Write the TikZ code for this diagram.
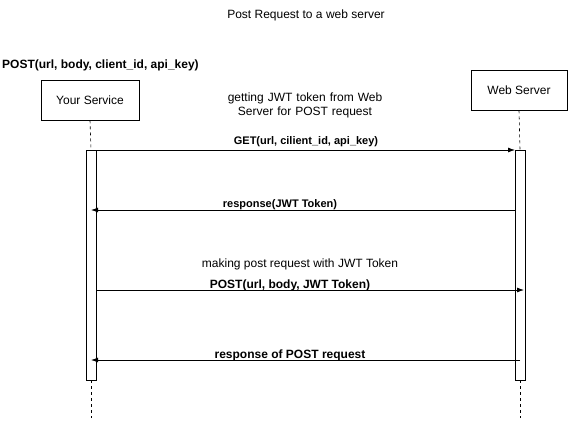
\documentclass[tikz,border=0pt]{standalone}
\usepackage{fontspec}
\setmainfont{Liberation Sans}
\usetikzlibrary{arrows.meta}
\begin{document}
\begin{tikzpicture}[x=1pt,y=-1pt,
  actor/.style={draw,line width=0.8pt,minimum width=98pt,minimum height=40pt,inner sep=0pt,font=\fontsize{12}{14}\selectfont},
  bar/.style={draw,line width=0.8pt,fill=white,minimum width=10pt,minimum height=230pt,inner sep=0pt},
  life/.style={line width=0.6pt,dash pattern=on 3pt off 3pt},
  msg/.style={line width=0.8pt,-{Latex[length=7pt,width=5pt]}},
  lbl/.style={font=\bfseries\fontsize{11}{13}\selectfont,inner sep=0pt},
  biglbl/.style={font=\bfseries\fontsize{12}{14}\selectfont,inner sep=0pt},
  txt/.style={font=\fontsize{12}{14}\selectfont,inner sep=0pt,align=center}]
\useasboundingbox (0,0) rectangle (571,421);
\node[txt] (title) at (306,15) {Post Request to a web server};
\node[biglbl,anchor=west] (call) at (2,65) {POST(url, body, client\_id, api\_key)};
\node[actor] (ys) at (90,100) {Your Service};
\node[actor,minimum width=96pt] (ws) at (519,90) {Web Server};
\node[bar] (lb) at (91,265) {};
\node[bar] (rb) at (520,265) {};
\coordinate (lend) at (91,418);
\coordinate (rend) at (520,418);
\draw[life] (ys.south) -- (lb.north);
\draw[life] (lb.south) -- (lend);
\draw[life] (ws.south) -- (rb.north);
\draw[life] (rb.south) -- (rend);
\node[txt,text width=170pt] (note1) at (305,105) {getting JWT token from Web\\Server for POST request};
\coordinate (a1s) at (96,150);
\coordinate (a1e) at (515,150);
\draw[msg] (a1s) -- (a1e);
\node[lbl] (l1) at (306,142) {GET(url, cilient\_id, api\_key)};
\coordinate (a2s) at (515,210);
\coordinate (a2e) at (91,210);
\draw[msg] (a2s) -- (a2e);
\node[lbl] (l2) at (280,205) {response(JWT Token)};
\node[txt] (note2) at (300,264) {making post request with JWT Token};
\coordinate (a3s) at (96,290);
\coordinate (a3e) at (524,290);
\draw[msg] (a3s) -- (a3e);
\node[biglbl] (l3) at (290,285) {POST(url, body, JWT Token)};
\coordinate (a4s) at (520,360);
\coordinate (a4e) at (91,360);
\draw[msg] (a4s) -- (a4e);
\node[biglbl] (l4) at (290,355) {response of POST request};
\end{tikzpicture}
\end{document}
